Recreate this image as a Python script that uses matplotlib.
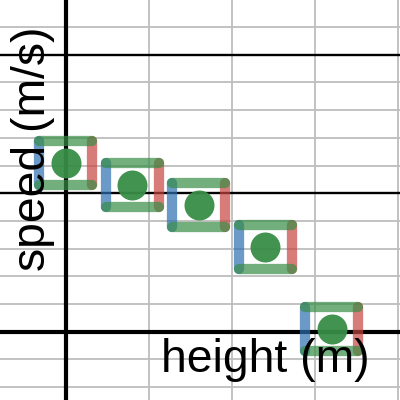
import matplotlib
matplotlib.use("Agg")
import matplotlib.pyplot as plt
import numpy as np

# data
height = [0.0, 0.8, 1.6, 2.4, 3.2]
speed = [6.08, 5.30, 4.57, 3.05, 0.10]
height_err = [0.32, 0.32, 0.32, 0.32, 0.32]
speed_err = [0.79, 0.79, 0.79, 0.79, 0.79]
xlabel = "height (m)"
ylabel = "speed (m/s)"

GREEN = "#388c46"
BLUE = "#2d70b3"
RED = "#c74440"

fig = plt.figure(figsize=(4, 4), dpi=100)
ax = fig.add_axes([0, 0, 1, 1])
for s in ax.spines.values():
    s.set_visible(False)

# grid
ax.set_xticks(np.arange(-1, 5, 1), minor=True)
ax.set_xticks([])
ax.set_yticks(np.arange(-3, 13, 1), minor=True)
ax.set_yticks([0, 5, 10])
ax.tick_params(which="both", length=0, labelbottom=False, labelleft=False)
ax.grid(which="minor", axis="both", color="#bdbdbd", linewidth=1.3, zorder=0)
ax.grid(which="major", axis="y", color="black", linewidth=1.7, zorder=0.5)
ax.set_axisbelow(True)
ax.axhline(0, color="black", linewidth=3.0, zorder=1)
ax.axvline(0, color="black", linewidth=3.0, zorder=1)

# labels (drawn beneath the points)
fig.text(0.402, 0.07, xlabel, fontsize=33.3, family="Liberation Sans",
         ha="left", va="baseline", zorder=2)
fig.text(0.1125, 0.322, ylabel, fontsize=33.3, family="Liberation Sans",
         rotation=90, rotation_mode="anchor", ha="left", va="baseline", zorder=2)

lw = 7.4
al = 0.7
for x, y, dx, dy in zip(height, speed, height_err, speed_err):
    ax.plot([x - dx, x - dx], [y - dy, y + dy], color=BLUE, lw=lw, alpha=al,
            solid_capstyle="round", zorder=3)
    ax.plot([x + dx, x + dx], [y - dy, y + dy], color=RED, lw=lw, alpha=al,
            solid_capstyle="round", zorder=3)
    ax.plot([x - dx, x + dx], [y + dy, y + dy], color=GREEN, lw=lw, alpha=al,
            solid_capstyle="round", zorder=3)
    ax.plot([x - dx, x + dx], [y - dy, y - dy], color=GREEN, lw=lw, alpha=al,
            solid_capstyle="round", zorder=3)

ax.plot(height, speed, linestyle="none", marker="o", markersize=21.6,
        markeredgewidth=0, color=GREEN, alpha=0.95, zorder=4)

ax.set_xlim(-0.791, 4.023)
ax.set_ylim(-2.466, 11.975)

fig.savefig("out.png", dpi=100)
